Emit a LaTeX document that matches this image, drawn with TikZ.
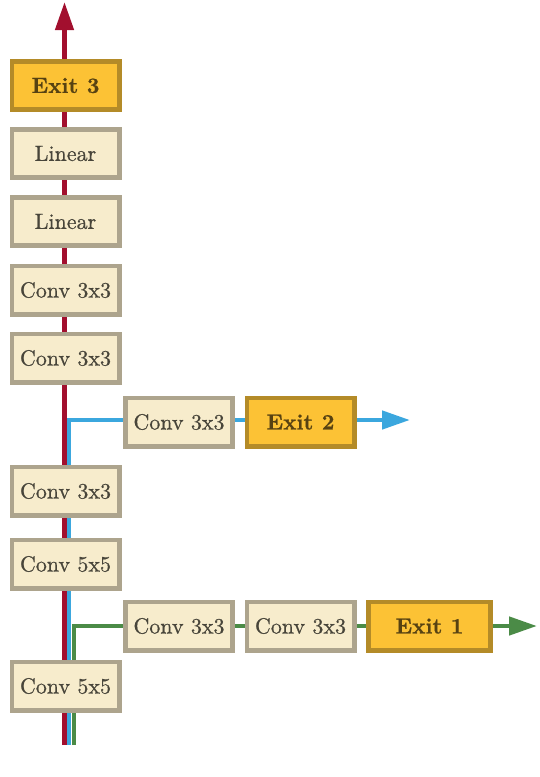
\documentclass[tikz,border=0pt]{standalone}
\usepackage{fontspec}
\setmainfont{lmroman10}[Extension=.otf, UprightFont=*-regular, BoldFont=*-bold, UprightFeatures={FakeBold=0.6}, BoldFeatures={FakeBold=0.7}]
\usetikzlibrary{arrows.meta,backgrounds}
\definecolor{cRed}{HTML}{A20F2E}
\definecolor{cBlue}{HTML}{3BA7DE}
\definecolor{cGreen}{HTML}{4B8B47}
\definecolor{cBoxFill}{HTML}{F7ECCC}
\definecolor{cBoxLine}{HTML}{ADA48D}
\definecolor{cExitFill}{HTML}{FCC235}
\definecolor{cExitLine}{HTML}{B48B28}
\definecolor{cText}{HTML}{48453A}
\definecolor{cExitText}{HTML}{574212}
\tikzset{
  layerbox/.style={draw=cBoxLine, fill=cBoxFill, line width=4.6pt, minimum width=107.4pt, minimum height=48.4pt, inner sep=0pt, text=cText, font=\fontsize{22}{26}\selectfont},
  exitbox/.style={layerbox, draw=cExitLine, fill=cExitFill, text=cExitText, font=\fontsize{22}{26}\selectfont\bfseries},
  flow/.style={line width=4.5pt},
  tip/.style={-{Triangle[length=28pt,width=18pt]}}
}
\begin{document}
\begin{tikzpicture}[x=1pt,y=-1pt]
\useasboundingbox (0,0) rectangle (540,777);
% main column
\node[exitbox]  (e3) at (65.5,85.5) {Exit 3};
\node[layerbox] (l2) at (65.5,153.5) {Linear};
\node[layerbox] (l1) at (65.5,221.5) {Linear};
\node[layerbox] (c4) at (65.5,290) {Conv 3x3};
\node[layerbox] (c3) at (65.5,358) {Conv 3x3};
\node[layerbox] (c2) at (65.5,491) {Conv 3x3};
\node[layerbox] (c1) at (65.5,564) {Conv 5x5};
\node[layerbox] (c0) at (65.5,686) {Conv 5x5};
% branch 2
\node[layerbox] (b2c) at (179,422) {Conv 3x3};
\node[exitbox]  (e2)  at (300.5,422) {Exit 2};
% branch 1
\node[layerbox] (b1a) at (179,626) {Conv 3x3};
\node[layerbox] (b1b) at (300.5,626) {Conv 3x3};
\node[exitbox, minimum width=122.4pt] (e1) at (429.5,626) {Exit 1};
% end points
\coordinate (rbot) at (64.5,745);
\coordinate (rtop) at (64.5,2);
\coordinate (bbot) at (69.2,745);
\coordinate (btip) at (410,420);
\coordinate (gbot) at (73.9,745);
\coordinate (gtip) at (537,626);
\begin{scope}[on background layer]
\draw[flow, cBlue] (bbot) |- (b2c.west |- btip) -- (e2.west |- btip);
\draw[flow, cBlue, tip] (e2.east |- btip) -- (btip);
\draw[flow, cGreen] (gbot) |- (b1a.west) -- (b1b.west);
\draw[flow, cGreen] (b1b.east) -- (e1.west);
\draw[flow, cGreen, tip] (e1.east) -- (gtip);
\draw[flow, cRed, tip] (rbot) -- (rtop);
\end{scope}
\end{tikzpicture}
\end{document}
